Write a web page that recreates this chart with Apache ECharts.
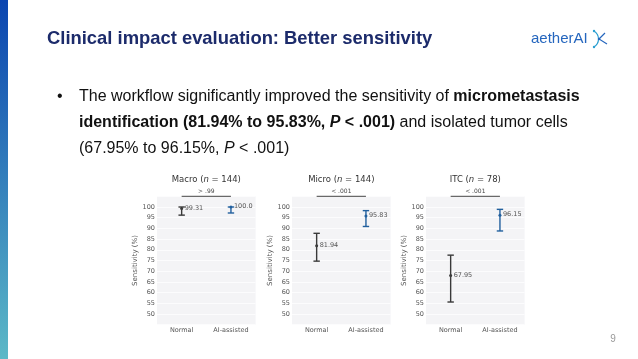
<!DOCTYPE html>
<html><head><meta charset="utf-8">
<script src="https://cdn.jsdelivr.net/npm/echarts@6/dist/echarts.min.js"></script>
<style>html,body{margin:0;padding:0;background:#fff}#c{width:638px;height:359px}</style>
</head><body><div id="c"></div>
<script>
// ---- data ----
const categories = ['Normal', 'AI-assisted'];
const panelNames = ['Macro', 'Micro', 'ITC'];
const panelN = [144, 144, 78];
const pValues = ['> .99', '< .001', '< .001'];
const macroPoint = [99.31, 100.0];
const macroLow = [96.2, 97.2];
const macroHigh = [100.0, 100.0];
const microPoint = [81.94, 95.83];
const microLow = [74.7, 90.9];
const microHigh = [87.7, 98.3];
const itcPoint = [67.95, 96.15];
const itcLow = [55.6, 88.8];
const itcHigh = [77.5, 98.9];
const yMin = 45, yMax = 105, yStep = 5;

const panels = [
  {pt: macroPoint, lo: macroLow, hi: macroHigh},
  {pt: microPoint, lo: microLow, hi: microHigh},
  {pt: itcPoint, lo: itcLow, hi: itcHigh}
];
const barColors = ['#3a3a3a', '#22609e'];
const chartFont = 'DejaVu Sans';
const gridLefts = [157, 292, 426];

function fmt(v) { return v >= 100 ? v.toFixed(1) : v.toFixed(2); }

const chart = echarts.init(document.getElementById('c'), null, {renderer: 'canvas'});

const grids = [], xAxes = [], yAxes = [], series = [];
panels.forEach((p, i) => {
  grids.push({left: gridLefts[i], top: 196.3, width: 98.6, height: 128.4, show: true,
    backgroundColor: '#f4f4f6', borderWidth: 0});
  xAxes.push({type: 'category', gridIndex: i, data: categories,
    axisLine: {show: false}, axisTick: {show: false},
    axisLabel: {fontSize: 6.5, color: '#555', fontFamily: chartFont, margin: 2},
    splitLine: {show: false}});
  yAxes.push({type: 'value', gridIndex: i, min: yMin, max: yMax, interval: yStep,
    axisLine: {show: false}, axisTick: {show: false},
    axisLabel: {fontSize: 6.5, color: '#555', fontFamily: chartFont, margin: 2,
      formatter: v => (v === yMin || v === yMax) ? '' : String(v)},
    splitLine: {show: true, lineStyle: {color: '#fcfcfd', width: 1}},
    name: 'Sensitivity (%)', nameLocation: 'middle', nameGap: 13,
    nameTextStyle: {fontSize: 7, color: '#555', fontFamily: chartFont}});
  const data = categories.map((c, k) => [k, p.lo[k], p.hi[k], p.pt[k]]);
  series.push({type: 'custom', xAxisIndex: i, yAxisIndex: i, data: data,
    encode: {x: 0, y: [1, 2, 3]}, clip: false, silent: true,
    renderItem: function (params, api) {
      const k = api.value(0);
      const a = api.coord([k, api.value(1)]);
      const b = api.coord([k, api.value(2)]);
      const m = api.coord([k, api.value(3)]);
      const col = barColors[k];
      const cap = 3.2;
      return {type: 'group', children: [
        {type: 'line', shape: {x1: a[0], y1: a[1], x2: b[0], y2: b[1]}, style: {stroke: col, lineWidth: 1.4}},
        {type: 'line', shape: {x1: a[0] - cap, y1: a[1], x2: a[0] + cap, y2: a[1]}, style: {stroke: col, lineWidth: 1.4}},
        {type: 'line', shape: {x1: b[0] - cap, y1: b[1], x2: b[0] + cap, y2: b[1]}, style: {stroke: col, lineWidth: 1.4}},
        {type: 'circle', shape: {cx: m[0], cy: m[1], r: 1.5}, style: {fill: col}},
        {type: 'text', style: {text: fmt(api.value(3)), x: m[0] + 3, y: m[1] - 0.5,
          align: 'left', verticalAlign: 'middle', fontSize: 6.5, fill: '#555', fontFamily: chartFont}}
      ]};
    }});
  // bracket + p-value + panel title
  series.push({type: 'custom', xAxisIndex: i, yAxisIndex: i, data: [[0, 1]], clip: false, silent: true,
    renderItem: function (params, api) {
      const l = api.coord([0, yMax]);
      const r = api.coord([1, yMax]);
      const y = l[1];
      const cx = (l[0] + r[0]) / 2;
      return {type: 'group', children: [
        {type: 'line', shape: {x1: l[0], y1: y, x2: r[0], y2: y}, style: {stroke: '#444', lineWidth: 1}},
        {type: 'text', style: {text: pValues[i], x: cx, y: y - 4.5, align: 'center', verticalAlign: 'middle',
          fontSize: 6, fill: '#444', fontFamily: chartFont}},
        {type: 'text', style: {text: panelNames[i] + ' ({i|n} = ' + panelN[i] + ')', x: cx, y: y - 16.5,
          align: 'center', verticalAlign: 'middle', fontSize: 8.5, fill: '#333', fontFamily: chartFont,
          rich: {i: {fontStyle: 'italic', fontSize: 8.5, fill: '#333', fontFamily: chartFont}}}}
      ]};
    }});
});

const graphic = [
  {type: 'rect', shape: {x: 0, y: 0, width: 8, height: 359}, style: {
    fill: new echarts.graphic.LinearGradient(0, 0, 0, 1, [{offset: 0, color: '#0b45b0'}, {offset: 1, color: '#5cb9c7'}])}},
  {type: 'text', style: {text: 'Clinical impact evaluation: Better sensitivity', x: 47, y: 39,
    verticalAlign: 'middle', font: 'bold 18.4px Liberation Sans', fill: '#1c2b6b'}},
  {type: 'text', style: {text: 'aetherAI', x: 531, y: 39, verticalAlign: 'middle',
    font: '15px Liberation Sans', fill: '#2566be'}},
  {type: 'bezierCurve', shape: {x1: 594, y1: 31, x2: 594, y2: 47, cpx1: 600, cpy1: 35, cpx2: 600, cpy2: 43},
    style: {stroke: '#2a9fd0', lineWidth: 1.2, fill: null}},
  {type: 'polyline', shape: {points: [[605, 33], [599, 39], [607, 44]]}, style: {stroke: '#2566be', lineWidth: 1.2, fill: null}},
  {type: 'circle', shape: {cx: 594, cy: 31, r: 1.2}, style: {fill: '#2a9fd0'}},
  {type: 'circle', shape: {cx: 594, cy: 47, r: 1.2}, style: {fill: '#2a9fd0'}},
  {type: 'circle', shape: {cx: 599, cy: 39, r: 1.2}, style: {fill: '#2566be'}},
  {type: 'text', style: {text: '•', x: 57, y: 97, verticalAlign: 'middle', font: '16px Liberation Sans', fill: '#111'}},
  {type: 'text', style: {text: 'The workflow significantly improved the sensitivity of {b|micrometastasis}',
    x: 79, y: 97, verticalAlign: 'middle', font: '16px Liberation Sans', fill: '#111',
    rich: {b: {fontWeight: 'bold', fontSize: 16, fontFamily: 'Liberation Sans', fill: '#111'}}}},
  {type: 'text', style: {text: '{b|identification (81.94% to 95.83%, }{bi|P}{b| < .001)} and isolated tumor cells',
    x: 79, y: 123, verticalAlign: 'middle', font: '16px Liberation Sans', fill: '#111',
    rich: {b: {fontWeight: 'bold', fontSize: 16, fontFamily: 'Liberation Sans', fill: '#111'},
           bi: {fontWeight: 'bold', fontStyle: 'italic', fontSize: 16, fontFamily: 'Liberation Sans', fill: '#111'}}}},
  {type: 'text', style: {text: '(67.95% to 96.15%, {i|P} < .001)',
    x: 79, y: 149, verticalAlign: 'middle', font: '16px Liberation Sans', fill: '#111',
    rich: {i: {fontStyle: 'italic', fontSize: 16, fontFamily: 'Liberation Sans', fill: '#111'}}}},
  {type: 'text', style: {text: '9', x: 613, y: 339, align: 'center', verticalAlign: 'middle',
    font: '10px Liberation Sans', fill: '#999'}}
];

chart.setOption({
  animation: false,
  backgroundColor: '#ffffff',
  grid: grids, xAxis: xAxes, yAxis: yAxes, series: series, graphic: graphic
});
</script>
</body></html>
